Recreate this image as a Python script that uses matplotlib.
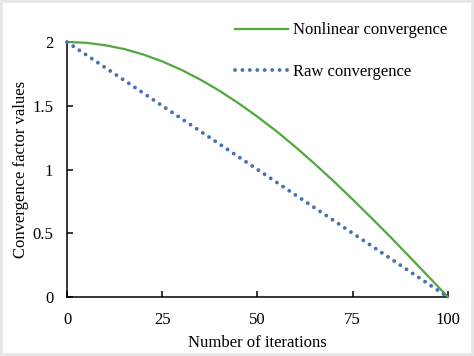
import matplotlib
matplotlib.use("Agg")
import matplotlib.pyplot as plt
from matplotlib.patches import Rectangle

# values
iterations = [0, 5, 10, 15, 20, 25, 30, 35, 40, 45, 50,
              55, 60, 65, 70, 75, 80, 85, 90, 95, 100]
nonlinear = [2.000, 1.994, 1.975, 1.945, 1.902, 1.848, 1.782, 1.705, 1.618, 1.520, 1.414,
             1.300, 1.176, 1.045, 0.908, 0.765, 0.618, 0.468, 0.313, 0.157, 0.000]
raw_x = [0, 100]
raw = [2.0, 0.0]

x_ticks = [0, 25, 50, 75, 100]
y_ticks = [0, 0.5, 1, 1.5, 2]
y_tick_labels = ["0", "0.5", "1", "1.5", "2"]

plt.rcParams["font.family"] = ["Liberation Serif", "DejaVu Serif"]
plt.rcParams["font.size"] = 12

fig = plt.figure(figsize=(4.74, 3.56), dpi=100)
fig.patch.set_facecolor("white")
fig.patches.append(Rectangle((0, 0), 1, 1, transform=fig.transFigure,
                             fill=False, edgecolor="#e6e6e6", linewidth=4))

ax = fig.add_axes([0.1414, 0.1657, 0.8036, 0.7163])

ax.plot(iterations, nonlinear, color="#50a83e", linewidth=1.6,
        label="Nonlinear convergence", clip_on=False, zorder=3)
ax.plot(raw_x, raw, color="#4a72b0", linewidth=2.8,
        linestyle=(0, (0.01, 1.9)), dash_capstyle="round",
        label="Raw convergence", clip_on=False, zorder=3)

ax.set_xlim(0, 100)
ax.set_ylim(0, 2)
ax.set_xticks(x_ticks)
ax.set_yticks(y_ticks)
ax.set_yticklabels(y_tick_labels)
ax.tick_params(direction="in", length=4, width=1.1)
ax.tick_params(axis="x", pad=11)
ax.tick_params(axis="y", pad=10)

for side in ["top", "right"]:
    ax.spines[side].set_visible(False)
for side in ["left", "bottom"]:
    ax.spines[side].set_linewidth(1.1)
    ax.spines[side].set_color("black")

ax.set_xlabel("Number of iterations", labelpad=5)
ax.set_ylabel("Convergence factor values", labelpad=2)

ax.legend(loc="upper left", bbox_to_anchor=(0.496, 0.937),
          bbox_transform=fig.transFigure, frameon=False,
          handlelength=3.2, handletextpad=0.3, labelspacing=1.55,
          borderpad=0, borderaxespad=0)

fig.savefig("out.png", dpi=100)
